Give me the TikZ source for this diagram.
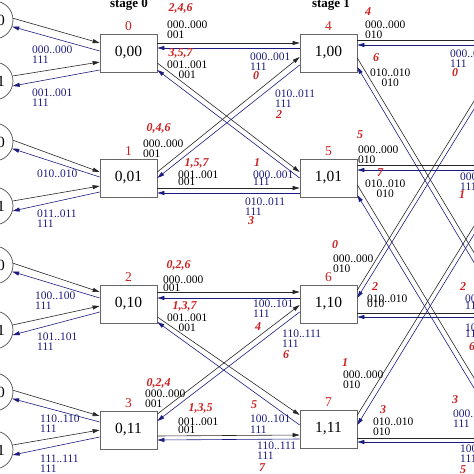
\documentclass[tikz,border=0pt]{standalone}
\usepackage{fontspec}
\setmainfont{Liberation Serif}
\usetikzlibrary{arrows.meta,calc,positioning}

\definecolor{linkblue}{RGB}{28,28,128}
\definecolor{linkred}{RGB}{204,32,32}
\newcommand{\cellfont}{\fontsize{15.5}{16}\selectfont}
\newcommand{\bitsfont}{\fontsize{11.5}{10}\selectfont}
\newcommand{\tagfont}{\fontsize{12}{12}\selectfont\bfseries\itshape}

\begin{document}
\begin{tikzpicture}[x=1pt,y=-1pt]
    % Common styles
    \tikzstyle{cell}=[draw=black!60, line width=0.7pt, minimum width=57pt, minimum height=38pt, inner sep=0pt, font=\cellfont]
    \tikzstyle{port}=[draw=black!70, line width=0.7pt, circle, minimum size=38pt, inner sep=0pt]
    \tikzstyle{porttext}=[inner sep=0pt, font=\cellfont]
    \tikzstyle{cellnum}=[inner sep=0pt, text=linkred, font=\fontsize{13.5}{14}\selectfont]
    \tikzstyle{stagename}=[inner sep=0pt, anchor=base, font=\fontsize{13}{13}\selectfont\bfseries]
    \tikzstyle{bits}=[inner sep=0pt, anchor=north west, align=left, font=\bitsfont]
    \tikzstyle{bitsc}=[bits, align=center]
    \tikzstyle{backbits}=[bits, text=linkblue]
    \tikzstyle{tag}=[inner sep=0pt, text=linkred, font=\tagfont]
    \tikzstyle{fwd}=[-{Triangle[length=7pt,width=4pt]}, line width=0.6pt, black!85]
    \tikzstyle{bwd}=[-{Triangle[length=7pt,width=4pt]}, line width=0.6pt, linkblue]

    \useasboundingbox (0,0) rectangle (474,474);
    \clip (0,0) rectangle (474,474);

    % --- Input ports ---
    \node[port] (p0) at (-6,20) {};
    \node[porttext] (p0t) at (1,20) {0};
    \node[port] (p1) at (-6,81) {};
    \node[porttext] (p1t) at (1,81) {1};
    \node[port] (p2) at (-6,142) {};
    \node[porttext] (p2t) at (1,142) {0};
    \node[port] (p3) at (-6,206) {};
    \node[porttext] (p3t) at (1,206) {1};
    \node[port] (p4) at (-6,265) {};
    \node[porttext] (p4t) at (1,265) {0};
    \node[port] (p5) at (-6,330) {};
    \node[porttext] (p5t) at (1,330) {1};
    \node[port] (p6) at (-6,392) {};
    \node[porttext] (p6t) at (1,392) {0};
    \node[port] (p7) at (-6,450) {};
    \node[porttext] (p7t) at (1,450) {1};

    % --- Stage 0 and stage 1 cells ---
    \node[stagename] (st0) at (129,7.5) {stage 0};
    \node[stagename] (st1) at (331,7.5) {stage 1};
    \node[cell] (s0r0) at (128.5,53) {0,00};
    \node[cell] (s0r1) at (128.5,178) {0,01};
    \node[cell] (s0r2) at (128.5,304) {0,10};
    \node[cell] (s0r3) at (128.5,430) {0,11};
    \node[cell] (s1r0) at (328.5,53) {1,00};
    \node[cell] (s1r1) at (328.5,178) {1,01};
    \node[cell] (s1r2) at (328.5,304) {1,10};
    \node[cell] (s1r3) at (328.5,429) {1,11};
    \node[cellnum, above=2.5pt of s0r0] (n0) {0};
    \node[cellnum, above=2.5pt of s0r1] (n1) {1};
    \node[cellnum, above=2.5pt of s0r2] (n2) {2};
    \node[cellnum, above=2.5pt of s0r3] (n3) {3};
    \node[cellnum, above=2.5pt of s1r0] (n4) {4};
    \node[cellnum, above=2.5pt of s1r1] (n5) {5};
    \node[cellnum, above=2.5pt of s1r2] (n6) {6};
    \node[cellnum, above=2.5pt of s1r3] (n7) {7};

    % stage 2 lies beyond the right edge
    \coordinate (s2r0) at (500,53);
    \coordinate (s2r1) at (500,178);
    \coordinate (s2r2) at (500,304);
    \coordinate (s2r3) at (500,429);

    % --- Ports to stage 0 ---
    \draw[fwd] (p0.5) -- ($(s0r0.west)+(0,-10)$);
    \draw[bwd] ($(s0r0.west)+(0,-2)$) -- (p0.-20);
    \draw[fwd] (p1.15) -- ($(s0r0.west)+(0,9)$);
    \draw[bwd] ($(s0r0.west)+(0,17)$) -- (p1.-15);
    \draw[fwd] (p2.5) -- ($(s0r1.west)+(0,-6)$);
    \draw[bwd] ($(s0r1.west)+(0,-1)$) -- (p2.-20);
    \draw[fwd] (p3.15) -- ($(s0r1.west)+(0,8)$);
    \draw[bwd] ($(s0r1.west)+(0,14)$) -- (p3.-15);
    \draw[fwd] (p4.5) -- ($(s0r2.west)+(0,-12)$);
    \draw[bwd] ($(s0r2.west)+(0,-6)$) -- (p4.-20);
    \draw[fwd] (p5.15) -- ($(s0r2.west)+(0,2)$);
    \draw[bwd] ($(s0r2.west)+(0,8)$) -- (p5.-15);
    \draw[fwd] (p6.5) -- ($(s0r3.west)+(0,-14)$);
    \draw[bwd] ($(s0r3.west)+(0,-8)$) -- (p6.-20);
    \draw[fwd] (p7.15) -- ($(s0r3.west)+(0,0)$);
    \draw[bwd] ($(s0r3.west)+(0,7)$) -- (p7.-15);

    \node[backbits] (b0) at (32,45.5) {000..000\\111};
    \node[backbits] (b1) at (32,88.5) {001..001\\111};
    \node[backbits] (b2) at (37,169.5) {010..010};
    \node[backbits] (b3) at (37,210) {011..011\\111};
    \node[backbits] (b4) at (35,291.5) {100..100\\111};
    \node[backbits] (b5) at (37,332.5) {101..101\\111};
    \node[backbits] (b6) at (40,414.5) {110..110\\111};
    \node[backbits] (b7) at (40,454.5) {111..111\\111};

    % --- Stage 0 to stage 1 ---
    \draw[fwd] ($(s0r0.east)+(0,-10)$) -- ($(s1r0.west)+(0,-10)$);
    \draw[bwd] ($(s1r0.west)+(0,-5)$) -- ($(s0r0.east)+(0,-5)$);
    \draw[fwd] ($(s0r1.east)+(0,10)$) -- ($(s1r1.west)+(0,10)$);
    \draw[bwd] ($(s1r1.west)+(0,15)$) -- ($(s0r1.east)+(0,15)$);
    \draw[fwd] ($(s0r2.east)+(0,-12)$) -- ($(s1r2.west)+(0,-12)$);
    \draw[bwd] ($(s1r2.west)+(0,-6)$) -- ($(s0r2.east)+(0,-6)$);
    \draw[fwd] ($(s0r3.east)+(0,6)$) -- ($(s1r3.west)+(0,6)$);
    \draw[bwd] ($(s1r3.west)+(0,10)$) -- ($(s0r3.east)+(0,10)$);

    \draw[fwd] ($(s0r0.east)+(0,10)$) -- ($(s1r1.west)+(0,-6)$);
    \draw[bwd] ($(s1r1.west)+(0,0)$) -- ($(s0r0.east)+(0,17)$);
    \draw[fwd] ($(s0r1.east)+(0,-6)$) -- ($(s1r0.west)+(0,4)$);
    \draw[bwd] ($(s1r0.west)+(0,12)$) -- ($(s0r1.east)+(0,0)$);
    \draw[fwd] ($(s0r2.east)+(0,13)$) -- ($(s1r3.west)+(0,-14)$);
    \draw[bwd] ($(s1r3.west)+(0,-4)$) -- ($(s0r2.east)+(0,18)$);
    \draw[fwd] ($(s0r3.east)+(0,-16)$) -- ($(s1r2.west)+(0,1)$);
    \draw[bwd] ($(s1r2.west)+(0,8)$) -- ($(s0r3.east)+(0,-9)$);

    \node[tag] (t0) at (180.5,8) {2,4,6};
    \node[bits] (f0) at (167,20.5) {000..000\\001};
    \node[tag] (t1) at (180.5,53) {3,5,7};
    \node[bitsc] (f1) at (167,60.5) {001..001\\001};
    \node[tag] (t2) at (158.5,128) {0,4,6};
    \node[bits] (f2) at (143,139.5) {000..000\\001};
    \node[tag] (t3) at (196.5,163) {1,5,7};
    \node[bits] (f3) at (178,170.5) {001..001\\[-3pt]001};
    \node[tag] (t4) at (178.5,265) {0,2,6};
    \node[bits] (f4) at (163,275.5) {000..000\\[-2pt]001};
    \node[tag] (t5) at (184.5,306) {1,3,7};
    \node[bitsc] (f5) at (167,313.5) {001..001\\001};
    \node[tag] (t6) at (158.5,383) {0,2,4};
    \node[bits] (f6) at (145,389.5) {000..000\\001};
    \node[tag] (t7) at (200.5,408) {1,3,5};
    \node[bits] (f7) at (178,417.5) {001..001\\[-2pt]001};

    \node[backbits] (r0) at (250,52.5) {000..001\\111};
    \node[tag] (u0) at (256,76) {0};
    \node[backbits] (r1) at (275,89.5) {010..011\\111};
    \node[tag] (u1) at (279,115) {2};
    \node[backbits] (r2) at (253,170.5) {000..001\\[-3pt]111};
    \node[tag] (u2) at (257,163) {1};
    \node[backbits] (r3) at (245,197.5) {010..011\\111};
    \node[tag] (u3) at (251,221) {3};
    \node[backbits] (r4) at (253,299.5) {100..101\\111};
    \node[tag] (u4) at (258,327) {4};
    \node[backbits] (r5) at (282,329.5) {110..111\\111};
    \node[tag] (u5) at (286,355) {6};
    \node[backbits] (r6) at (250,414.5) {100..101\\[1pt]111};
    \node[tag] (u6) at (254,405) {5};
    \node[backbits] (r7) at (257,441.5) {110..111\\111};
    \node[tag] (u7) at (262,468) {7};

    % --- Stage 1 to stage 2 ---
    \draw[fwd] ($(s1r0.east)+(0,-13)$) -- ($(s2r0)+(0,-13)$);
    \draw[bwd] ($(s2r0)+(0,-8)$) -- ($(s1r0.east)+(0,-8)$);
    \draw[fwd] ($(s1r1.east)+(0,-13)$) -- ($(s2r1)+(0,-13)$);
    \draw[bwd] ($(s2r1)+(0,-8)$) -- ($(s1r1.east)+(0,-8)$);
    \draw[fwd] ($(s1r2.east)+(0,9)$) -- ($(s2r2)+(0,9)$);
    \draw[bwd] ($(s2r2)+(0,13)$) -- ($(s1r2.east)+(0,13)$);
    \draw[fwd] ($(s1r3.east)+(0,9)$) -- ($(s2r3)+(0,9)$);
    \draw[bwd] ($(s2r3)+(0,13)$) -- ($(s1r3.east)+(0,13)$);

    \draw[fwd] ($(s1r0.east)+(0,5)$) -- ($(s2r2)+(0,-8)$);
    \draw[bwd] ($(s2r2)+(0,2)$) -- ($(s1r0.east)+(0,14)$);
    \draw[fwd] ($(s1r1.east)+(0,7)$) -- ($(s2r3)+(0,-8)$);
    \draw[bwd] ($(s2r3)+(0,2)$) -- ($(s1r1.east)+(0,17)$);
    \draw[fwd] ($(s1r2.east)+(0,-14)$) -- ($(s2r0)+(0,6)$);
    \draw[bwd] ($(s2r0)+(0,14)$) -- ($(s1r2.east)+(0,-6)$);
    \draw[fwd] ($(s1r3.east)+(0,-14)$) -- ($(s2r1)+(0,6)$);
    \draw[bwd] ($(s2r1)+(0,14)$) -- ($(s1r3.east)+(0,-4)$);

    \node[tag] (t8) at (368,12) {4};
    \node[bits] (f8) at (365,20.5) {000..000\\010};
    \node[tag] (t9) at (376,58) {6};
    \node[bitsc] (f9) at (370,68.5) {010..010\\010};
    \node[tag] (t10) at (360,135) {5};
    \node[bits] (f10) at (358,145.5) {000..000\\010};
    \node[tag] (t11) at (380,173) {7};
    \node[bitsc] (f11) at (365,179.5) {010..010\\010};
    \node[tag] (t12) at (335,245) {0};
    \node[bits] (f12) at (333,254.5) {000..000\\010};
    \node[tag] (t13) at (375,287) {2};
    \node[bits] (f13) at (367,294.5) {010..010\\[-5pt]010};
    \node[tag] (t14) at (345,363) {1};
    \node[bits] (f14) at (343,370.5) {000..000\\010};
    \node[tag] (t15) at (383,410) {3};
    \node[bits] (f15) at (373,417.5) {010..010\\010};

    \node[backbits] (r8) at (450,49.5) {000..001\\111};
    \node[tag] (u8) at (455,73) {0};
    \node[backbits] (r9) at (460,172.5) {000..001\\111};
    \node[tag] (u9) at (462,195) {1};
    \node[backbits] (r10) at (465,294.5) {000..001\\[-3pt]111};
    \node[tag] (u10) at (463,287) {2};
    \node[backbits] (r11) at (465,323.5) {100..101\\[-4pt]111};
    \node[tag] (u11) at (472,347) {6};
    \node[backbits] (r12) at (453,409.5) {000..001\\111};
    \node[tag] (u12) at (455,400) {3};
    \node[backbits] (r13) at (460,444.5) {100..101\\111};
    \node[tag] (u13) at (463,470) {5};
\end{tikzpicture}
\end{document}
